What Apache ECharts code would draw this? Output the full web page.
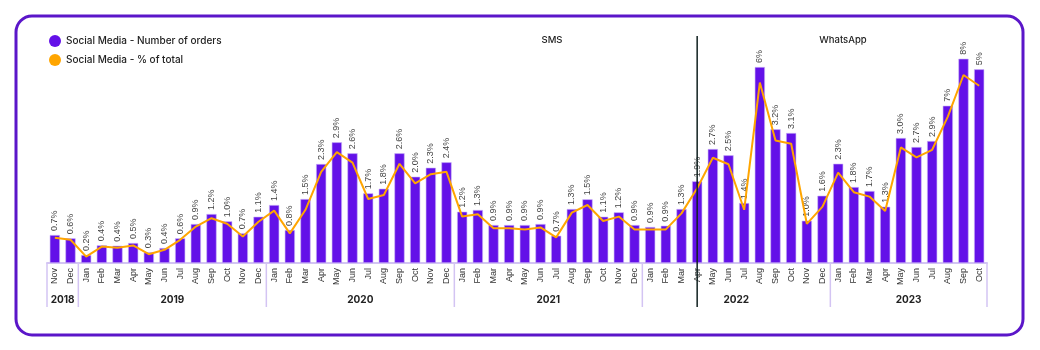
<!DOCTYPE html>
<html>
<head>
<meta charset="utf-8">
<script src="https://cdn.jsdelivr.net/npm/echarts@6/dist/echarts.min.js"></script>
<style>
  html, body { margin: 0; padding: 0; background: #fff; }
  #main { width: 1040px; height: 350px; }
</style>
</head>
<body>
<div id="main"></div>
<script>
// Months from Nov 2018 to Oct 2023
const months = [
  "Nov", "Dec",
  "Jan", "Feb", "Mar", "Apr", "May", "Jun", "Jul", "Aug", "Sep", "Oct", "Nov", "Dec",
  "Jan", "Feb", "Mar", "Apr", "May", "Jun", "Jul", "Aug", "Sep", "Oct", "Nov", "Dec",
  "Jan", "Feb", "Mar", "Apr", "May", "Jun", "Jul", "Aug", "Sep", "Oct", "Nov", "Dec",
  "Jan", "Feb", "Mar", "Apr", "May", "Jun", "Jul", "Aug", "Sep", "Oct", "Nov", "Dec",
  "Jan", "Feb", "Mar", "Apr", "May", "Jun", "Jul", "Aug", "Sep", "Oct"
];
const years = ["2018", "2019", "2020", "2021", "2022", "2023"];
const monthsPerYear = [2, 12, 12, 12, 12, 10];

// Social Media - Number of orders (bars)
const orders = [
  280, 247,
  80, 177, 173, 200, 107, 150, 247, 390, 490, 417, 297, 463,
  580, 330, 640, 990, 1207, 1097, 697, 743, 1097, 863, 953, 1007,
  513, 530, 380, 380, 380, 390, 273, 540, 637, 463, 507, 380,
  360, 373, 540, 817, 1140, 1077, 600, 1960, 1337, 1300, 423, 673,
  993, 760, 720, 563, 1250, 1160, 1220, 1573, 2043, 1937
];

// Social Media - % of total (line)
const share = [
  0.63, 0.58,
  0.16, 0.41, 0.38, 0.44, 0.22, 0.33, 0.58, 0.91, 1.12, 0.98, 0.66, 1.03,
  1.31, 0.74, 1.33, 2.28, 2.77, 2.51, 1.6, 1.7, 2.48, 1.99, 2.22, 2.28,
  1.16, 1.22, 0.87, 0.87, 0.84, 0.89, 0.64, 1.26, 1.45, 1.05, 1.16, 0.84,
  0.84, 0.84, 1.24, 1.87, 2.63, 2.47, 1.33, 4.51, 3.06, 2.98, 0.98, 1.41,
  2.26, 1.77, 1.66, 1.3, 2.89, 2.64, 2.83, 3.66, 4.7, 4.43
];

// labels printed above the bars
const shareLabels = [
  "0.7%", "0.6%",
  "0.2%", "0.4%", "0.4%", "0.5%", "0.3%", "0.4%", "0.6%", "0.9%", "1.2%", "1.0%", "0.7%", "1.1%",
  "1.4%", "0.8%", "1.5%", "2.3%", "2.9%", "2.6%", "1.7%", "1.8%", "2.6%", "2.0%", "2.3%", "2.4%",
  "1.2%", "1.3%", "0.9%", "0.9%", "0.9%", "0.9%", "0.7%", "1.3%", "1.5%", "1.1%", "1.2%", "0.9%",
  "0.9%", "0.9%", "1.3%", "1.9%", "2.7%", "2.5%", "1.4%", "6%", "3.2%", "3.1%", "1.0%", "1.6%",
  "2.3%", "1.8%", "1.7%", "1.3%", "3.0%", "2.7%", "2.9%", "7%", "8%", "5%"
];

// channel switch marker (index of Apr 2022)
const switchIndex = 41;

var myChart = echarts.init(document.getElementById("main"));

var option = {
  animation: false,
  textStyle: { fontFamily: "Liberation Sans" },
  legend: {
    orient: "vertical",
    left: 44,
    top: 30,
    itemWidth: 12,
    itemHeight: 12,
    itemGap: 7,
    icon: "circle",
    itemStyle: { borderWidth: 0 },
    textStyle: { fontFamily: "Inter", fontSize: 10, fontWeight: 500, color: "#222" },
    data: ["Social Media - Number of orders", "Social Media - % of total"]
  },
  grid: { left: 47, right: 53, top: 43, bottom: 87 },
  xAxis: {
    type: "category",
    data: months,
    axisTick: { show: false },
    axisLine: { lineStyle: { color: "#d3c4f3", width: 2 } },
    axisLabel: { rotate: 90, fontSize: 9, color: "#333", margin: 5, interval: 0 }
  },
  yAxis: [
    { type: "value", min: 0, max: 2200, show: false },
    { type: "value", min: 0, max: 5.5, show: false }
  ],
  series: [
    {
      name: "Social Media - Number of orders",
      type: "bar",
      data: orders,
      barCategoryGap: "35%",
      itemStyle: { color: "#6311e8", borderColor: "#cdb8f7", borderWidth: 0.6 },
      label: {
        show: true,
        position: "top",
        rotate: 90,
        align: "left",
        verticalAlign: "middle",
        distance: 4,
        fontSize: 9,
        color: "#444",
        formatter: (p) => shareLabels[p.dataIndex]
      }
    },
    {
      name: "Social Media - % of total",
      type: "line",
      yAxisIndex: 1,
      data: share,
      showSymbol: false,
      symbol: "circle",
      itemStyle: { color: "#ffa500" },
      lineStyle: { color: "#ffa500", width: 2 },
      z: 3
    }
  ]
};

myChart.setOption(option);

// year groups, separators, annotations drawn from the axis scale
function drawOverlay() {
  const xAt = (i) => myChart.convertToPixel({ xAxisIndex: 0 }, i);
  const base = myChart.convertToPixel({ yAxisIndex: 0 }, 0);
  const bw = xAt(1) - xAt(0);
  const bottomY = base + 44;
  const els = [];
  let start = 0;
  const sepStyle = { stroke: "#d3c4f3", lineWidth: 1.5 };
  els.push({ type: "line", shape: { x1: xAt(0) - bw / 2, y1: base, x2: xAt(0) - bw / 2, y2: bottomY }, style: sepStyle });
  for (let g = 0; g < years.length; g++) {
    const end = start + monthsPerYear[g] - 1;
    const x2 = xAt(end) + bw / 2;
    els.push({ type: "line", shape: { x1: x2, y1: base, x2: x2, y2: bottomY }, style: sepStyle });
    els.push({
      type: "text",
      x: (xAt(start) + xAt(end)) / 2,
      y: base + 37,
      style: { text: years[g], fontFamily: "Inter", fontSize: 10, fontWeight: "bold", fill: "#222", align: "center", verticalAlign: "middle" }
    });
    start = end + 1;
  }
  const sx = xAt(switchIndex);
  els.push({ type: "line", shape: { x1: sx, y1: 36, x2: sx, y2: bottomY }, style: { stroke: "#10201f", lineWidth: 1.5 }, z: 10 });
  els.push({ type: "text", x: 552, y: 40, style: { text: "SMS", fontFamily: "Inter", fontSize: 9.5, fontWeight: 500, fill: "#222", align: "center", verticalAlign: "middle" } });
  els.push({ type: "text", x: 843, y: 40, style: { text: "WhatsApp", fontFamily: "Inter", fontSize: 9.5, fontWeight: 500, fill: "#222", align: "center", verticalAlign: "middle" } });
  // outer rounded frame
  els.push({ type: "rect", shape: { x: 16, y: 16, width: 1007, height: 319, r: 16 }, style: { fill: "none", stroke: "#5b16c9", lineWidth: 3 } });
  myChart.setOption({ graphic: els });
}
drawOverlay();
</script>
</body>
</html>
